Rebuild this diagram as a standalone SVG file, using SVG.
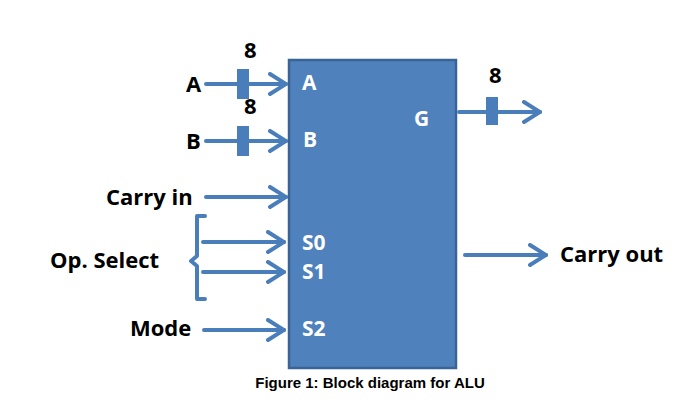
<svg xmlns="http://www.w3.org/2000/svg" width="700" height="407" viewBox="0 0 700 407">
<defs><style>
.w{stroke:#4a7ebb;stroke-width:4;fill:none;stroke-linecap:round;stroke-linejoin:round}
.t{font-family:"Open Sans","Liberation Sans",sans-serif;font-weight:bold;font-size:22px;fill:#000}
.p{font-family:"Open Sans","Liberation Sans",sans-serif;font-weight:bold;font-size:21px;fill:#fff}
.bar{fill:#4a7ebb}
</style>
<marker id="ah" markerWidth="12" markerHeight="12" refX="10" refY="6" orient="auto" markerUnits="userSpaceOnUse"><path d="M0,0 L10,6 L0,12" fill="none" stroke="#4a7ebb" stroke-width="3.5"/></marker>
<marker id="ah2" viewBox="0 0 20 24" markerWidth="20" markerHeight="24" refX="18" refY="12" orient="auto" markerUnits="userSpaceOnUse"><path d="M2,2 L18,12 L2,22" fill="none" stroke="#4a7ebb" stroke-width="4" stroke-linecap="round"/></marker>
</defs>
<rect width="700" height="407" fill="#fff"/>
<g id="alu">
<rect x="289" y="60" width="167" height="308" fill="#4f81bd" stroke="#3a6496" stroke-width="2.5"/>
<text class="p" x="302" y="90">A</text>
<text class="p" x="303" y="147">B</text>
<text class="p" x="414" y="126">G</text>
<text class="p" x="302" y="250">S0</text>
<text class="p" x="302" y="279">S1</text>
<text class="p" x="302" y="336">S2</text>
</g>
<g id="labels">
<text class="t" x="186" y="92">A</text>
<text class="t" x="186" y="149">B</text>
<text class="t" x="106" y="205">Carry in</text>
<text class="t" x="50" y="268">Op. Select</text>
<text class="t" x="130" y="336">Mode</text>
<text class="t" x="560" y="262">Carry out</text>
<text class="t" x="244" y="58">8</text>
<text class="t" x="244" y="114">8</text>
<text class="t" x="489" y="83">8</text>
</g>
<g id="connectors">
<line class="w" x1="206" y1="84" x2="286" y2="84" marker-end="url(#ah2)"/>
<line class="w" x1="206" y1="141" x2="286" y2="141" marker-end="url(#ah2)"/>
<line class="w" x1="206" y1="197" x2="286" y2="197" marker-end="url(#ah2)"/>
<line class="w" x1="203" y1="242" x2="284" y2="242" marker-end="url(#ah2)"/>
<line class="w" x1="203" y1="272" x2="284" y2="272" marker-end="url(#ah2)"/>
<line class="w" x1="204" y1="330" x2="284" y2="330" marker-end="url(#ah2)"/>
<line class="w" x1="459" y1="112" x2="540" y2="112" marker-end="url(#ah2)"/>
<line class="w" x1="465" y1="255" x2="546" y2="255" marker-end="url(#ah2)"/>
<rect class="bar" x="237" y="69" width="12" height="30"/>
<rect class="bar" x="237" y="126" width="12" height="30"/>
<rect class="bar" x="486" y="97" width="12" height="28"/>
<path class="w" d="M205,216 H197 V256 L191,261 L197,266 V299 H205" stroke-width="3.5"/>
</g>
<text x="370" y="388" text-anchor="middle" font-family="Liberation Sans,Arial,sans-serif" font-weight="bold" font-size="15" fill="#000">Figure 1: Block diagram for ALU</text>
</svg>
